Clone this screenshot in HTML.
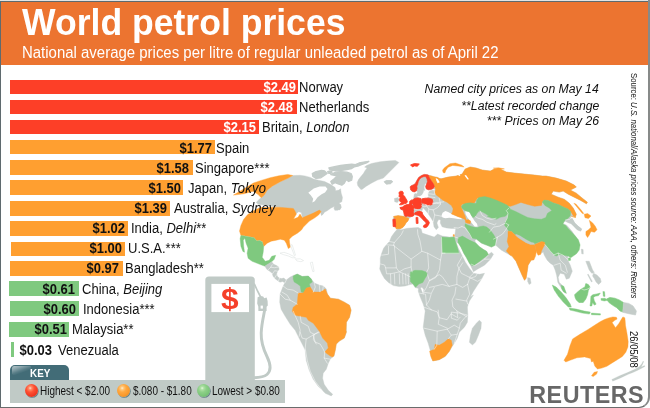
<!DOCTYPE html>
<html><head><meta charset="utf-8">
<style>
html,body{margin:0;padding:0;}
body{width:650px;height:408px;overflow:hidden;background:#fff;position:relative;font-family:"Liberation Sans",sans-serif;color:#111;}
.ab{position:absolute;}
#hdr{position:absolute;left:1px;top:2px;width:647px;height:63.3px;background:#ec7430;}
#title{position:absolute;left:22px;top:3px;font-size:36px;font-weight:bold;color:#fff;line-height:40px;white-space:nowrap;transform-origin:0 0;transform:scaleX(0.988);}
#sub{position:absolute;left:22px;top:43px;font-size:16px;color:#fff;line-height:20px;white-space:nowrap;transform-origin:0 0;transform:scaleX(0.935);}
.bar{position:absolute;height:14.5px;}
.r{background:#fd3f27;}
.o{background:#ff9f30;}
.g{background:#7fc97f;}
.v{position:absolute;width:60px;font-weight:bold;font-size:14px;line-height:15px;white-space:nowrap;text-align:right;transform-origin:100% 50%;transform:scaleX(0.925);}
.w{color:#fff;}
.n{position:absolute;font-size:14px;line-height:15px;white-space:nowrap;transform-origin:0 50%;transform:scaleX(0.93);}
.note{position:absolute;right:51px;font-size:12px;font-style:italic;line-height:14px;white-space:nowrap;text-align:right;transform-origin:100% 0;transform:scaleX(1.02);}
#map{position:absolute;left:0;top:0;}
.vt{position:absolute;white-space:nowrap;transform-origin:0 0;transform:rotate(90deg);}
#keytab{position:absolute;left:10.2px;top:365.1px;width:58.9px;height:15.3px;background:#426c77;border-radius:5px 5px 0 0;overflow:hidden;}
#keytab:before{content:"";position:absolute;left:1.6px;top:1.4px;width:19px;height:8.5px;border-radius:4px 2px 14px 3px;background:linear-gradient(160deg,rgba(255,255,255,.62) 0%,rgba(255,255,255,.4) 25%,rgba(255,255,255,.12) 50%,rgba(255,255,255,0) 66%);}
#keytab span{position:absolute;left:19.4px;top:2px;font-size:11px;font-weight:bold;color:#fff;line-height:13px;transform-origin:0 50%;transform:scaleX(0.9);}
#keybar{position:absolute;left:10.3px;top:380.3px;width:275.2px;height:22.4px;background:#c0cac6;}
.kt{position:absolute;top:383.9px;font-size:12px;line-height:14px;white-space:nowrap;transform-origin:0 50%;transform:scaleX(0.83);}
.dot{position:absolute;width:13.6px;height:13.6px;border-radius:50%;top:383.5px;box-shadow:0.7px 0.8px 0.6px rgba(60,95,105,.7);}
#logo{position:absolute;left:529.3px;top:382px;font-size:23.3px;font-weight:bold;color:#676767;line-height:26px;white-space:nowrap;letter-spacing:0.5px;}
</style></head><body>
<div id="hdr"></div>
<div id="wrap" style="position:absolute;left:0;top:0;width:650px;height:408px;will-change:transform;">
<div id="title">World petrol prices</div>
<div id="sub">National average prices per litre of regular unleaded petrol as of April 22</div>
<svg id="map" width="650" height="408" viewBox="0 0 650 408">
<g stroke-linejoin="round">
<path d="M312.3,173.5 316.0,171.6 321.5,170.4 324.6,171.0 327.1,173.5 324.6,175.3 320.9,177.8 316.0,178.4 312.9,176.5Z" fill="#c4ccc9" stroke="#c4ccc9" stroke-width="1.3"/>
<path d="M330.8,174.7 335.7,172.2 340.6,171.6 346.8,172.2 351.1,173.5 352.3,176.5 351.7,180.2 348.6,181.5 346.2,179.6 344.3,183.3 341.8,185.2 338.2,183.9 335.1,182.7 332.2,184.3 330.8,181.5 334.5,178.4 336.9,175.9Z" fill="#c4ccc9" stroke="#c4ccc9" stroke-width="1.3"/>
<path d="M328.9,167.9 334.5,166.7 340.6,165.5 346.8,164.6 351.7,164.2 355.4,164.6 359.1,163.0 365.2,161.8 368.9,161.4 366.5,162.9 361.5,164.6 357.8,166.1 354.2,166.9 351.7,168.5 346.8,169.5 341.8,170.4 336.9,170.8 332.0,170.4 329.5,169.2Z" fill="#c4ccc9" stroke="#c4ccc9" stroke-width="1.3"/>
<path d="M327.7,171.6 330.2,170.8 332.2,172.0 330.8,173.5 328.3,173.2Z" fill="#c4ccc9" stroke="#c4ccc9" stroke-width="1.3"/>
<path d="M292.7,175.5 300.0,175.3 304.9,175.9 310.5,177.4 313.5,179.0 318.5,180.2 324.6,181.5 327.7,183.1 330.8,184.5 332.6,185.8 335.1,187.6 335.7,190.7 338.8,190.1 340.6,188.8 341.2,193.2 342.5,197.5 341.8,201.8 339.2,203.1 341.1,206.5 339.9,209.9 336.5,209.1 334.1,206.5 330.7,208.2 327.2,210.8 323.8,212.5 321.7,215.1 321.1,210.8 317.6,213.4 314.2,215.4 309.0,217.1 303.9,218.9 302.2,216.8 301.3,212.5 298.7,211.7 295.3,214.2 293.6,209.9 285.0,209.6 278.3,207.3 258.2,204.2 256.2,202.6 259.2,199.2 261.2,197.8 264.2,195.2 267.2,190.2 272.2,186.2 280.3,181.7 288.3,178.1 292.7,175.5Z" fill="#c4ccc9" stroke="#c4ccc9" stroke-width="0.4"/>
<path d="M321.1,210.0 323.5,207.7 326.5,206.1 329.4,205.1 328.6,207.4 326.3,209.5 324.5,211.7 323.3,213.9 321.6,215.6 320.8,213.4Z" fill="#c4ccc9" stroke="#c4ccc9" stroke-width="0.4"/>
<path d="M333.8,207.7 335.8,205.8 338.7,204.1 340.7,204.6 341.2,208.0 337.7,210.3 334.8,210.3Z" fill="#c4ccc9" stroke="#c4ccc9" stroke-width="0.4"/>
<path d="M308.3,192.8 313.7,188.4 319.6,186.5 325.5,186.5 327.5,188.9 325.0,192.4 321.6,194.3 317.6,197.3 314.7,201.2 312.3,202.6 313.2,198.7 310.8,195.3Z" fill="#ffffff"/>
<path d="M233.5,195.1 239.1,191.8 245.7,187.7 253.5,183.0 261.2,180.4 270.1,177.7 278.9,175.8 287.8,174.4 292.7,175.5 288.3,178.1 280.3,181.7 272.2,186.2 267.2,190.2 264.2,195.2 261.2,197.8 258.2,194.6 253.2,191.2 244.1,193.8Z" fill="#ff9f30" stroke="#ff9f30" stroke-width="0.4"/>
<path d="M278.3,207.2 293.3,208.4 294.7,210.4 296.4,214.1 293.5,219.1 298.0,217.3 300.0,214.1 302.4,217.7 306.4,216.1 313.4,213.1 319.5,210.0 321.1,211.7 318.5,215.1 314.4,218.1 309.4,221.1 306.4,224.1 303.4,227.1 301.4,230.1 297.4,233.2 292.3,236.2 289.3,239.2 289.5,242.2 290.3,247.2 288.3,248.6 286.3,243.2 284.3,240.2 280.3,239.2 276.3,240.2 271.2,241.2 267.2,243.2 263.7,246.4 262.3,241.6 259.6,240.2 256.8,240.8 254.0,237.4 249.8,236.7 244.3,235.8 240.9,235.4 239.5,231.1 240.9,225.6 243.6,219.4 247.7,214.6 254.0,210.4 260.2,207.6Z" fill="#ff9f30" stroke="#ff9f30" stroke-width="0.4"/>
<path d="M240.9,235.6 240.1,238.6 240.9,246.2 242.9,251.4 244.5,252.2 243.7,246.2 243.3,240.2 244.9,238.2 246.1,243.2 248.1,248.2 247.1,253.2 248.1,258.3 252.1,261.3 257.2,263.3 262.2,265.3 265.2,266.3 268.2,264.3 271.2,262.3 274.2,259.3 275.7,255.3 271.8,256.3 269.2,260.3 265.2,261.3 262.2,257.3 263.2,252.2 263.7,246.6 262.3,241.9 259.6,240.5 256.8,241.1 254.0,237.7 249.8,237.0 244.3,236.0Z" fill="#7fc97f" stroke="#7fc97f" stroke-width="0.4"/>
<path d="M264.8,266.0 268.2,264.0 271.7,261.7 273.6,264.3 276.1,265.3 278.5,266.8 279.1,269.2 277.6,271.2 276.7,273.6 277.2,276.1 279.1,278.0 281.5,278.6 283.9,278.1 285.5,279.5 286.6,280.7 285.6,283.4 284.4,282.6 282.5,281.5 280.0,282.2 277.5,280.5 275.1,278.7 273.1,276.2 272.2,273.2 269.7,271.3 266.8,269.3Z" fill="#c4ccc9" stroke="#c4ccc9" stroke-width="0.4"/>
<path d="M286.2,280.1 283.2,286.1 280.1,294.1 279.7,302.2 281.1,309.2 285.2,316.3 290.2,324.3 295.2,330.3 298.2,336.3 300.1,340.0 303.2,346.1 305.2,350.1 306.2,360.2 309.2,370.2 313.2,379.2 318.2,386.3 325.3,393.3 331.3,395.9 332.7,394.3 328.3,390.3 324.2,384.3 322.6,378.2 323.2,373.2 326.3,369.2 328.3,363.2 330.3,359.2 332.3,357.1 333.9,356.1 335.3,350.1 336.3,344.1 339.3,341.1 344.3,338.1 346.4,332.0 346.4,322.3 349.5,317.3 351.1,310.2 349.5,305.2 344.4,302.2 338.4,299.2 330.4,298.2 327.4,294.1 326.4,289.1 323.3,286.1 319.3,285.1 314.3,283.1 311.3,279.1 308.3,276.1 302.2,276.5 297.2,274.1 293.2,275.5 290.2,277.1Z" fill="#c4ccc9" stroke="#c4ccc9" stroke-width="0.4"/>
<path d="M293.2,276.1 297.2,274.1 302.2,276.5 308.3,276.1 311.3,279.1 312.3,282.1 309.3,284.1 310.3,287.1 306.3,288.1 304.3,293.1 301.2,292.1 300.2,286.1 297.2,283.7 294.2,282.1 293.2,279.1Z" fill="#7fc97f" stroke="#7fc97f" stroke-width="0.4"/>
<path d="M298.2,293.1 303.2,293.1 306.3,288.1 310.3,287.1 313.3,292.1 320.3,292.1 325.3,289.1 327.4,294.1 330.4,298.2 338.4,299.2 344.4,302.2 349.5,305.2 351.1,310.2 349.5,317.3 346.4,322.3 346.0,330.3 346.4,332.0 344.3,338.1 339.3,341.1 336.3,344.1 335.3,350.1 333.9,356.1 332.3,357.1 330.3,356.1 324.7,352.1 328.3,348.1 327.3,343.1 322.6,338.1 319.3,331.3 316.3,327.3 313.3,323.3 308.3,320.3 306.3,317.3 300.2,316.3 295.2,315.2 292.2,311.2 293.2,307.2 297.2,304.2Z" fill="#ff9f30" stroke="#ff9f30" stroke-width="0.4"/>
<path d="M360.9,189.5 357.8,185.8 357.2,182.7 358.5,179.6 360.9,176.5 363.4,173.5 365.2,170.4 367.1,167.9 364.6,167.1 366.5,165.5 371.4,163.6 376.3,162.4 380.0,161.8 386.4,161.1 395.4,160.4 398.9,162.5 394.4,167.1 390.4,171.1 386.4,175.1 383.4,178.1 377.4,180.1 371.3,183.2 366.3,186.2 362.3,189.2Z" fill="#c4ccc9" stroke="#c4ccc9" stroke-width="0.4"/>
<path d="M384.0,181.7 386.4,180.5 391.4,180.5 392.8,181.7 390.4,183.8 386.4,184.2Z" fill="#c4ccc9" stroke="#c4ccc9" stroke-width="0.4"/>
<path d="M393.2,226.5 392.9,219.4 393.7,216.5 398.1,215.7 403.5,216.5 404.7,213.5 404.0,210.6 400.0,209.1 400.3,207.6 404.0,206.9 407.6,204.7 409.9,203.5 409.9,201.0 412.8,200.0 413.5,199.1 414.3,194.1 415.7,193.2 417.2,194.4 417.4,197.6 420.1,198.5 422.6,199.1 426.8,198.5 428.5,196.6 428.2,193.7 429.4,191.2 431.9,190.3 434.1,190.3 435.6,189.3 435.6,189.4 433.3,188.6 430.9,189.7 428.2,189.9 426.2,188.9 425.6,186.5 426.2,184.6 425.6,183.1 424.8,184.6 424.1,187.2 424.3,189.0 424.9,190.4 423.8,190.1 423.2,192.3 421.9,194.7 419.9,195.9 417.6,195.9 416.8,193.9 417.6,191.9 416.5,190.9 414.4,192.0 412.5,191.6 410.7,190.1 410.0,186.8 411.3,185.6 413.2,184.8 415.2,183.6 416.8,180.5 418.7,177.3 421.5,175.4 424.2,174.4 427.4,174.6 428.9,175.4 430.9,175.8 434.0,176.8 437.2,177.3 440.7,179.0 440.0,179.1 448.1,177.1 456.1,176.1 462.1,174.1 465.2,169.0 470.2,167.0 476.2,168.0 482.2,170.0 490.3,171.1 494.3,169.0 500.3,169.0 506.4,172.1 514.4,173.1 524.4,174.1 534.5,175.1 542.5,176.1 546.2,176.1 556.2,178.1 566.3,181.1 574.3,185.1 576.3,187.1 570.3,190.1 576.3,193.2 582.3,198.2 587.4,202.2 586.4,203.8 580.3,200.2 574.3,197.2 568.3,194.2 563.2,191.1 559.2,192.1 553.2,191.1 551.2,194.2 558.2,197.2 564.2,199.2 569.3,203.2 573.3,208.2 576.3,214.2 575.3,217.3 571.3,216.3 569.6,219.5 572.2,218.6 574.7,222.9 578.2,226.3 581.6,228.9 580.7,231.1 577.3,229.8 573.9,226.3 571.3,223.7 568.7,222.9 565.3,221.2 562.7,223.2 567.0,225.5 572.2,231.5 576.4,238.3 579.0,245.2 577.3,239.1 578.3,245.1 576.3,250.1 572.3,253.1 568.3,255.1 567.3,259.2 570.3,265.2 572.3,271.2 569.3,278.2 566.3,279.2 564.2,274.2 560.2,273.2 558.2,277.2 559.2,282.3 562.2,285.3 564.2,289.3 566.3,293.3 563.2,291.3 560.2,286.3 557.8,282.3 556.6,275.2 555.2,270.2 553.2,265.2 550.2,263.2 547.2,260.2 544.2,255.1 543.2,252.1 540.1,254.1 537.1,251.1 535.1,250.1 534.1,255.1 531.1,260.2 528.1,265.2 527.1,272.2 526.1,278.2 524.5,280.3 522.1,275.2 519.0,268.2 516.0,261.2 512.0,256.1 510.0,255.1 501.5,250.2 495.5,245.1 491.5,247.1 486.5,245.1 481.4,243.1 476.4,239.1 474.8,240.7 475.8,243.1 479.4,246.7 483.5,249.6 486.5,251.2 488.5,254.4 491.5,252.2 493.5,254.2 490.5,259.2 484.5,265.2 477.4,269.2 473.4,271.7 471.8,268.0 469.4,263.2 466.4,257.6 463.8,253.2 460.9,247.1 458.5,243.1 456.9,242.7 455.3,240.1 454.3,236.7 454.9,235.1 455.7,229.1 457.3,225.0 456.8,228.2 451.6,228.5 446.5,227.9 442.1,226.8 440.3,223.1 440.6,220.1 438.8,219.4 437.6,221.2 436.9,223.1 438.4,227.5 436.2,229.7 434.0,226.8 433.2,221.6 431.0,217.9 428.1,213.5 425.1,209.9 422.9,207.6 421.6,212.1 423.1,215.0 426.0,218.7 429.0,221.6 428.5,224.6 426.5,226.8 425.0,226.0 426.0,223.5 424.6,221.2 422.4,219.1 420.1,216.5 417.9,215.0 415.0,214.7 414.3,215.3 410.6,217.2 408.7,218.5 407.9,220.9 406.0,222.8 404.6,225.3 402.6,227.6 399.1,229.1 396.2,228.7 395.6,226.8Z" fill="#c4ccc9" stroke="#c4ccc9" stroke-width="0.4"/>
<path d="M442.6,212.7 445.4,211.0 448.1,212.1 451.4,213.8 454.2,215.2 458.1,216.8 460.8,217.6 462.0,219.3 458.1,218.9 453.6,218.3 449.2,217.8 445.4,218.3 442.6,217.6 441.5,215.4Z" fill="#ffffff"/>
<path d="M465.2,211.0 469.1,211.9 470.4,214.1 472.4,217.6 474.6,221.0 477.0,223.7 477.7,226.5 474.8,226.7 472.4,223.7 470.0,220.7 467.4,217.6 465.6,214.3Z" fill="#ffffff"/>
<path d="M394.4,198.5 398.1,197.6 399.1,200.3 397.4,202.5 394.7,201.8Z" fill="#c4ccc9" stroke="#c4ccc9" stroke-width="0.4"/>
<path d="M384.0,181.7 386.4,180.5 391.4,180.5 392.8,181.7 390.4,183.8 386.4,184.2Z" fill="#c4ccc9" stroke="#c4ccc9" stroke-width="0.4"/>
<path d="M428.9,175.4 430.9,175.8 434.0,176.8 437.2,177.3 440.7,179.0 440.0,179.1 448.1,177.1 456.1,176.1 462.1,174.1 465.2,169.0 470.2,167.0 476.2,168.0 482.2,170.0 490.3,171.1 494.3,169.0 500.3,169.0 506.4,172.1 514.4,173.1 524.4,174.1 534.5,175.1 542.5,176.1 546.2,176.1 556.2,178.1 566.3,181.1 574.3,185.1 576.3,187.1 570.3,190.1 576.3,193.2 582.3,198.2 587.4,202.2 586.4,203.8 580.3,200.2 574.3,197.2 568.3,194.2 563.2,191.1 559.2,192.1 553.2,191.1 551.2,194.2 558.2,197.2 564.2,199.2 569.3,203.2 573.3,208.2 576.3,214.2 575.3,217.3 571.3,216.3 575.8,217.5 573.2,215.7 570.7,211.5 568.1,208.9 563.8,207.2 558.6,204.6 553.5,202.9 548.3,200.6 544.1,200.0 542.3,202.0 541.5,205.4 534.6,206.3 527.8,204.6 520.9,202.4 515.7,204.6 510.6,206.3 507.2,206.0 507.4,205.2 498.3,202.2 490.3,199.2 482.2,197.2 477.2,198.2 474.2,203.2 462.1,204.2 461.1,206.1 461.6,207.9 462.7,210.5 463.8,213.2 464.9,215.4 465.6,217.6 466.7,221.5 464.9,219.6 461.9,217.9 458.1,216.7 454.2,215.0 451.4,213.9 452.5,212.1 453.1,208.8 451.4,205.5 447.0,202.2 442.6,200.0 435.6,194.4 434.9,192.2 435.6,189.4 434.5,186.5 433.7,184.1 431.8,181.3 429.8,178.2 428.7,175.8 429.0,175.5Z" fill="#ff9f30" stroke="#ff9f30" stroke-width="0.4"/>
<path d="M442.5,170.2 444.4,167.8 449.9,163.7 455.5,163.0 461.9,165.2 464.1,167.0 458.2,166.1 452.7,165.4 448.1,167.2 445.9,170.2 444.9,172.9 443.1,172.6Z" fill="#ff9f30" stroke="#ff9f30" stroke-width="0.4"/>
<path d="M435.7,178.1 437.9,179.2 439.8,182.2 437.6,183.3 436.4,180.7Z" fill="#ffffff"/>
<path d="M455.6,170.7 457.5,170.7 460.4,175.5 459.0,175.9Z" fill="#ffffff"/>
<path d="M464.5,175.5 466.0,175.1 468.9,179.2 467.5,179.6Z" fill="#ffffff"/>
<path d="M493.3,168.1 498.8,167.8 504.4,168.9 498.8,169.2Z" fill="#ff9f30" stroke="#ff9f30" stroke-width="0.4"/>
<path d="M465.2,220.4 468.0,219.6 470.7,221.0 470.2,223.7 467.4,223.2 465.6,222.6Z" fill="#ff9f30" stroke="#ff9f30" stroke-width="0.4"/>
<path d="M461.4,206.6 463.0,204.4 465.8,203.3 470.2,202.8 473.5,203.3 476.3,203.3 476.6,200.3 478.8,197.4 484.7,196.6 490.6,198.1 496.5,200.3 507.4,205.2 510.0,208.2 508.4,213.2 505.3,216.3 500.3,217.3 496.3,219.3 492.3,218.3 487.3,216.3 488.9,216.0 485.6,213.8 482.3,212.1 480.1,211.0 478.5,211.6 476.8,213.8 475.2,216.5 472.9,217.6 471.1,214.9 470.4,213.2 469.1,211.7 465.2,210.8 462.5,208.8Z" fill="#7fc97f" stroke="#7fc97f" stroke-width="0.4"/>
<path d="M508.9,208.0 509.7,208.9 515.7,211.5 522.6,214.9 527.8,217.5 534.6,218.8 541.5,219.2 545.8,217.5 547.5,213.2 551.8,210.6 549.2,208.0 544.9,205.4 542.3,202.0 544.1,200.0 548.3,200.6 553.5,202.9 558.6,204.6 563.8,207.2 568.1,208.9 570.7,211.5 570.3,215.7 568.1,218.3 565.5,220.0 563.8,221.7 562.9,224.3 565.5,225.2 568.1,228.6 571.5,232.0 574.9,235.5 578.4,239.8 580.1,244.9 579.2,250.1 576.7,253.5 573.2,256.1 570.7,257.8 568.1,256.1 563.8,255.2 559.5,254.4 556.1,256.1 553.5,254.4 550.1,250.9 547.5,247.5 544.9,244.1 544.1,242.3 541.5,241.5 538.9,242.3 534.6,244.1 530.3,244.1 526.0,242.3 521.7,239.8 518.3,237.2 515.7,235.0 513.2,232.9 511.5,231.2 508.9,231.2 507.2,228.6 504.6,225.2 505.4,221.7 507.2,218.3 508.0,213.2 506.3,210.6Z" fill="#7fc97f" stroke="#7fc97f" stroke-width="0.4"/>
<path d="M568.1,258.2 570.3,257.8 570.7,260.2 568.7,260.8Z" fill="#7fc97f" stroke="#7fc97f" stroke-width="0.4"/>
<path d="M508.0,231.2 511.5,231.5 513.2,233.2 515.7,235.5 518.3,237.7 521.7,240.1 526.0,242.7 530.3,244.4 534.3,244.6 535.5,247.5 536.3,251.8 535.5,256.1 533.8,260.0 531.1,260.2 528.1,265.2 527.1,272.2 526.1,278.2 524.5,280.3 522.1,275.2 519.0,268.2 516.0,261.2 512.0,256.1 510.0,255.1 506.3,250.9 508.9,246.6 507.2,241.5 508.0,236.3Z" fill="#ff9f30" stroke="#ff9f30" stroke-width="0.4"/>
<path d="M534.6,244.6 538.9,242.7 541.5,241.5 544.6,242.3 544.9,244.6 543.2,247.5 541.5,250.9 540.6,254.4 538.1,255.2 536.3,251.8 535.5,247.5Z" fill="#ff9f30" stroke="#ff9f30" stroke-width="0.4"/>
<path d="M527.7,277.6 530.1,278.2 531.1,283.3 529.1,284.5 527.7,281.3Z" fill="#c4ccc9" stroke="#c4ccc9" stroke-width="0.4"/>
<path d="M515.7,234.1 520.0,235.8 526.0,239.6 531.2,242.2 534.3,243.0 534.3,244.6 530.3,244.4 526.0,242.7 521.7,240.1 518.3,237.7 515.7,235.5Z" fill="#c4ccc9" stroke="#c4ccc9" stroke-width="0.2"/>
<path d="M465.2,223.7 467.4,224.8 470.2,225.9 473.5,227.0 477.4,227.6 480.1,226.5 483.4,225.9 486.7,227.0 490.0,229.8 493.4,234.2 496.0,238.6 495.5,245.1 491.5,247.1 486.5,245.1 481.4,243.1 476.4,239.1 471.8,238.1 469.1,233.1 466.9,228.7 464.9,225.9Z" fill="#7fc97f" stroke="#7fc97f" stroke-width="0.4"/>
<path d="M457.9,238.1 462.4,236.1 469.4,240.1 475.8,243.1 479.4,246.7 483.5,249.6 486.5,251.2 488.5,254.8 483.5,258.2 478.4,262.2 474.4,265.2 471.8,265.6 469.4,263.2 466.4,257.6 463.8,253.2 460.9,247.1 458.1,242.7Z" fill="#7fc97f" stroke="#7fc97f" stroke-width="0.4"/>
<path d="M453.1,234.7 454.2,234.4 454.7,236.9 454.3,239.2 453.4,238.1Z" fill="#ff9f30" stroke="#ff9f30" stroke-width="0.4"/>
<path d="M410.1,186.8 411.3,185.7 413.2,184.9 415.2,183.7 416.8,180.6 418.7,177.4 421.5,175.5 424.2,174.4 427.4,174.7 428.9,175.5 428.5,176.0 425.6,176.5 423.4,176.8 421.1,177.8 419.5,179.4 418.3,181.7 417.6,184.9 416.9,185.9 417.2,188.4 416.5,190.8 414.4,191.9 412.5,191.5 410.7,190.0Z" fill="#fd3f27" stroke="#fd3f27" stroke-width="0.5"/>
<path d="M425.8,176.3 428.5,175.9 429.7,178.2 431.7,181.3 433.6,184.1 434.4,186.4 433.3,188.4 430.9,189.6 428.2,189.8 426.2,188.8 425.6,186.4 426.6,184.1 427.4,181.7 427.0,179.0 426.0,177.3Z" fill="#fd3f27" stroke="#fd3f27" stroke-width="0.5"/>
<path d="M398.9,192.5 400.4,191.3 402.4,191.3 403.4,192.9 402.9,194.9 404.4,195.9 405.4,197.8 406.7,199.8 407.4,201.8 406.4,203.3 404.3,203.8 401.4,204.8 399.4,204.8 400.4,203.3 401.9,202.4 399.9,201.4 399.3,199.3 400.3,197.8 399.0,196.4 399.3,194.4Z" fill="#fd3f27" stroke="#fd3f27" stroke-width="0.8"/>
<path d="M399.9,207.6 402.4,207.1 404.3,205.6 406.8,204.6 408.7,204.6 409.7,203.6 411.7,204.6 413.2,206.2 414.2,207.6 413.7,209.6 413.2,212.1 414.2,214.5 413.2,216.1 410.7,216.6 407.7,216.1 405.3,216.6 404.2,214.5 403.7,212.1 403.2,210.1 400.9,209.2Z" fill="#fd3f27" stroke="#fd3f27" stroke-width="0.8"/>
<path d="M409.7,201.3 412.2,199.7 413.2,201.3 412.7,203.2 411.5,204.4 409.7,203.7Z" fill="#fd3f27" stroke="#fd3f27" stroke-width="0.8"/>
<path d="M412.9,199.8 415.1,198.2 418.0,197.9 420.8,198.5 421.5,200.8 421.2,203.2 421.7,205.7 420.6,208.2 418.0,208.9 415.1,208.7 414.1,207.3 413.2,205.8 412.7,203.2 413.2,201.3Z" fill="#fd3f27" stroke="#fd3f27" stroke-width="0.8"/>
<path d="M422.1,198.8 425.4,198.2 428.8,198.2 432.2,199.2 432.8,201.8 432.4,204.3 429.8,205.3 426.4,204.8 423.4,204.0 421.9,202.4Z" fill="#fd3f27" stroke="#fd3f27" stroke-width="0.8"/>
<path d="M414.6,213.0 417.1,211.7 419.5,211.0 422.1,212.0 422.5,214.0 424.0,216.0 426.0,218.4 428.4,220.9 429.4,222.8 428.4,224.9 427.0,226.9 424.9,227.8 423.3,226.9 423.8,225.3 425.8,224.3 426.3,222.8 424.3,221.0 422.4,219.0 420.6,217.1 419.0,215.8 417.1,215.1 415.1,214.6Z" fill="#fd3f27" stroke="#fd3f27" stroke-width="0.8"/>
<path d="M416.0,217.4 417.8,217.4 418.1,223.4 416.3,223.4Z" fill="#fd3f27" stroke="#fd3f27" stroke-width="0.8"/>
<path d="M393.7,216.5 398.1,215.7 403.5,216.5 408.7,218.5 407.9,220.9 406.0,222.8 404.6,225.3 402.6,227.6 399.1,229.1 396.2,228.7 395.6,226.8 395.6,223.1 395.1,219.0Z" fill="#ff9f30" stroke="#ff9f30" stroke-width="0.7"/>
<path d="M392.9,219.4 395.1,219.0 395.6,223.1 395.6,226.8 393.2,226.5Z" fill="#fd3f27" stroke="#fd3f27" stroke-width="0.8"/>
<path d="M410.5,164.9 414.4,163.5 419.3,163.9 417.4,166.3 414.4,165.9 412.5,166.9Z" fill="#fd3f27" stroke="#fd3f27" stroke-width="0.8"/>
<path d="M411.1,227.9 418.2,227.5 421.2,229.1 422.2,233.1 428.2,235.1 434.2,237.1 437.6,234.1 442.3,236.1 449.3,237.1 454.3,236.7 455.3,240.1 458.3,248.2 462.4,256.2 465.4,262.2 469.4,268.2 473.4,273.3 479.4,274.3 484.5,273.3 481.4,279.3 477.4,285.3 473.4,291.4 470.4,297.0 473.4,295.0 469.4,301.1 467.4,307.1 467.8,315.1 467.4,322.2 464.4,327.2 459.3,332.2 457.3,338.2 454.3,343.3 452.3,346.3 449.3,351.3 445.3,356.3 439.2,359.7 432.8,360.9 431.2,357.3 430.2,350.3 428.2,343.3 425.2,335.2 423.2,327.2 424.2,319.2 425.2,311.1 423.2,304.1 420.2,297.1 418.2,291.0 419.2,285.0 423.4,295.0 423.8,289.5 421.9,287.2 418.9,288.5 415.0,287.5 413.0,284.0 410.1,284.6 405.2,286.0 399.3,286.6 393.4,285.6 388.5,282.6 384.6,278.7 381.7,273.8 379.7,268.9 380.3,264.0 380.3,258.1 381.7,253.2 383.6,248.3 386.6,244.4 389.5,241.5 391.5,236.6 394.4,232.6 397.4,229.1 401.3,229.7 407.2,228.3Z" fill="#c4ccc9" stroke="#c4ccc9" stroke-width="0.4"/>
<path d="M441.3,237.1 449.3,237.5 454.3,237.1 455.3,241.1 457.3,247.1 458.9,253.2 442.3,253.2 441.9,245.1Z" fill="#7fc97f" stroke="#7fc97f" stroke-width="0.4"/>
<path d="M410.5,271.9 415.0,270.3 421.9,270.5 426.2,271.9 427.4,274.8 424.8,278.7 422.8,282.6 418.9,284.0 415.6,287.2 413.0,284.0 410.5,281.7 410.1,276.8Z" fill="#7fc97f" stroke="#7fc97f" stroke-width="0.4"/>
<path d="M429.6,351.3 434.2,349.3 435.2,344.3 439.2,345.3 444.3,342.3 448.3,338.8 451.3,340.3 452.3,345.3 449.3,351.3 445.3,356.3 439.2,359.7 432.8,360.9 430.8,356.3Z" fill="#ff9f30" stroke="#ff9f30" stroke-width="0.4"/>
<path d="M479.4,320.2 481.4,322.2 481.0,328.2 478.4,335.2 475.4,342.3 472.4,344.9 469.4,342.3 470.4,335.2 472.4,328.2 476.4,323.2Z" fill="#c4ccc9" stroke="#c4ccc9" stroke-width="0.4"/>
<path d="M569.6,219.5 572.2,218.6 574.7,222.9 578.2,226.3 581.6,228.9 580.7,231.1 577.3,229.8 573.9,226.3 571.3,223.7Z" fill="#c4ccc9" stroke="#c4ccc9" stroke-width="0.4"/>
<path d="M584.2,214.3 587.6,213.5 591.0,216.0 588.5,218.6 585.0,217.7Z" fill="#ff9f30" stroke="#ff9f30" stroke-width="0.4"/>
<path d="M589.3,220.3 592.7,222.9 595.3,226.3 597.0,229.8 594.5,232.3 591.0,231.5 589.3,234.9 587.6,237.5 585.9,234.9 585.9,231.5 588.5,229.8 591.0,227.2 590.2,223.7Z" fill="#ff9f30" stroke="#ff9f30" stroke-width="0.4"/>
<path d="M573.9,203.2 575.9,204.0 580.7,209.5 583.8,213.6 582.4,213.6 579.0,209.5Z" fill="#ff9f30" stroke="#ff9f30" stroke-width="0.4"/>
<path d="M552.2,285.0 556.2,287.0 561.2,292.0 566.3,298.1 570.3,304.1 571.3,307.1 568.3,307.1 563.2,302.1 558.2,296.1 554.2,290.0Z" fill="#7fc97f" stroke="#7fc97f" stroke-width="0.4"/>
<path d="M569.3,308.1 576.3,309.1 584.3,311.1 590.4,312.1 589.4,314.1 582.3,313.1 574.3,311.1 569.9,310.1Z" fill="#7fc97f" stroke="#7fc97f" stroke-width="0.4"/>
<path d="M591.4,313.1 600.4,313.7 600.4,315.1 591.4,314.7Z" fill="#7fc97f" stroke="#7fc97f" stroke-width="0.4"/>
<path d="M561.2,285.3 563.8,286.3 566.3,293.3 563.8,292.1 561.8,288.9Z" fill="#7fc97f" stroke="#7fc97f" stroke-width="0.4"/>
<path d="M574.6,294.8 577.2,292.2 581.5,288.8 584.9,287.1 585.8,283.6 588.3,284.5 590.0,287.1 588.3,290.5 587.5,294.8 585.8,299.1 583.2,302.5 578.9,302.5 576.3,299.9 575.1,297.4Z" fill="#7fc97f" stroke="#7fc97f" stroke-width="0.6"/>
<path d="M590.9,296.5 592.6,294.8 596.9,293.9 600.3,293.1 598.6,295.6 595.2,296.2 593.5,297.4 594.3,300.8 596.1,304.2 594.3,305.1 592.6,302.5 591.8,305.9 590.0,305.9 590.6,301.7Z" fill="#7fc97f" stroke="#7fc97f" stroke-width="0.5"/>
<path d="M602.9,291.4 604.6,291.7 605.0,296.5 603.3,296.2Z" fill="#7fc97f" stroke="#7fc97f" stroke-width="0.4"/>
<path d="M600.9,298.6 605.0,298.2 607.7,300.3 604.3,301.0 601.2,300.3Z" fill="#7fc97f" stroke="#7fc97f" stroke-width="0.4"/>
<path d="M606.4,299.1 609.8,297.4 614.9,298.2 619.2,299.9 623.5,302.5 622.7,312.0 620.1,311.1 616.7,307.7 612.4,305.1 608.9,302.5Z" fill="#7fc97f" stroke="#7fc97f" stroke-width="0.6"/>
<path d="M623.5,302.5 628.7,303.4 633.0,305.9 636.4,311.1 635.5,315.0 628.7,313.7 622.8,312.3Z" fill="#c4ccc9" stroke="#c4ccc9" stroke-width="0.6"/>
<path d="M585.8,261.3 589.2,261.3 590.9,265.6 592.6,269.9 594.3,272.5 591.8,273.3 589.2,269.9 587.5,265.6Z" fill="#c4ccc9" stroke="#c4ccc9" stroke-width="0.5"/>
<path d="M593.5,273.3 596.9,275.0 600.3,278.5 601.2,281.9 598.6,284.5 596.1,281.9 594.3,278.5 592.6,275.9Z" fill="#c4ccc9" stroke="#c4ccc9" stroke-width="0.5"/>
<path d="M587.5,274.5 588.3,274.2 592.3,281.4 591.4,281.9Z" fill="#c4ccc9" stroke="#c4ccc9" stroke-width="0.4"/>
<path d="M581.3,249.1 583.1,249.5 583.3,254.1 581.7,253.7Z" fill="#c4ccc9" stroke="#c4ccc9" stroke-width="0.4"/>
<path d="M564.0,360.3 567.5,354.3 570.0,345.7 572.6,338.9 579.5,334.6 588.1,329.4 594.9,325.1 600.1,321.7 604.4,319.5 608.6,317.9 612.9,316.9 616.4,317.3 617.1,319.1 614.8,320.3 612.1,322.6 615.5,327.7 618.9,323.4 621.5,319.1 622.9,316.9 624.8,317.8 625.1,320.0 625.5,325.5 627.0,333.6 628.2,341.5 627.9,346.9 625.8,352.3 622.4,356.4 617.7,359.5 612.1,362.9 606.9,366.3 601.8,368.1 597.5,368.9 594.9,366.3 593.2,361.2 591.5,362.0 590.6,358.6 584.6,356.9 576.9,357.8 570.0,360.3 565.7,362.0Z" fill="#ff9f30" stroke="#ff9f30" stroke-width="0.4"/>
<path d="M591.5,375.8 594.1,372.3 597.5,371.5 596.6,374.1 593.2,376.6Z" fill="#ff9f30" stroke="#ff9f30" stroke-width="0.4"/>
<path d="M611.8,379.4 619.6,375.7 627.5,372.5 631.4,370.8 635.3,369.1 639.2,366.7 641.7,363.7 643.1,361.0 643.7,361.8 642.4,364.7 641.2,366.9 644.6,365.5 644.9,366.5 641.2,368.6 637.3,370.6 632.4,372.7 628.4,374.3 620.6,377.9 612.7,381.2Z" fill="#c4ccc9" stroke="#c4ccc9" stroke-width="0.2"/>
<g fill="none" stroke="#d9dfdd" stroke-width="0.5">
<path d="M280.0,253.2 284.0,252.3 288.7,253.9 293.5,256.3 295.5,257.9 292.1,257.7 288.1,255.9 283.3,254.6Z"/>
<path d="M295.5,259.0 300.2,258.8 303.6,260.6 300.9,261.7 296.8,260.9Z"/>
<path d="M290.4,245.1 292.1,244.7 295.5,255.2 294.4,255.5Z"/>
<path d="M310.3,262.7 312.4,262.0 314.1,271.4 312.8,271.7Z"/>
</g>
<g fill="none" stroke="#fff" stroke-width="0.55" stroke-opacity="0.9" stroke-linecap="round">
<path d="M389.5,241.5 394.4,242.5 401.3,234.6 403.2,230.7"/>
<path d="M394.4,242.5 393.4,245.4 411.1,259.1 421.9,251.3 419.9,240.5 417.9,234.6 417.5,229.7"/>
<path d="M421.9,251.3 427.7,253.2 440.5,260.1 441.9,253.2 441.5,237.5"/>
<path d="M441.9,253.2 445.0,253.2"/>
<path d="M442.3,253.2 458.9,253.2"/>
<path d="M386.6,244.8 394.4,245.4"/>
<path d="M388.5,246.4 388.5,254.2 381.7,255.2"/>
<path d="M394.4,246.4 396.4,267.9 385.6,267.9 384.6,265.0 380.7,264.0"/>
<path d="M411.1,259.1 411.1,267.0 404.2,268.9 399.3,271.9 396.4,267.9"/>
<path d="M411.1,267.0 412.1,271.9"/>
<path d="M427.7,253.2 428.7,267.9 426.8,271.9"/>
<path d="M440.5,260.1 439.5,269.9 435.6,277.7 429.7,280.7"/>
<path d="M390.5,273.8 390.9,284.0"/>
<path d="M394.4,273.8 394.8,284.0"/>
<path d="M399.3,273.8 399.7,284.0"/>
<path d="M402.6,273.8 403.0,284.0"/>
<path d="M405.6,273.8 406.0,284.0"/>
<path d="M408.1,273.8 408.5,284.0"/>
<path d="M385.6,267.9 386.6,273.8 390.5,273.8 399.3,271.9 404.2,273.8 410.1,276.8"/>
<path d="M427.5,274.6 429.4,280.5 426.5,287.4 423.5,292.3 430.4,293.2"/>
<path d="M429.4,280.5 439.2,274.6 442.2,276.6 449.0,286.4 456.9,284.4 462.7,287.4 467.6,284.4"/>
<path d="M429.4,287.4 434.3,286.4 442.2,284.4 449.0,286.4"/>
<path d="M462.7,262.8 458.8,268.7 456.9,276.6 456.9,284.4"/>
<path d="M467.6,284.4 469.6,278.5 475.5,276.6 478.4,271.7"/>
<path d="M467.6,284.4 469.6,294.2 466.7,300.1 467.6,304.0 472.5,307.0"/>
<path d="M434.3,287.4 431.4,293.2 429.4,300.1 426.5,305.0 431.4,309.9 437.3,311.9 439.2,317.7 447.1,319.7 451.0,313.8 457.8,317.7 456.9,310.9 452.9,307.0 452.0,300.1 454.9,294.2 455.9,287.4"/>
<path d="M455.9,299.1 466.7,301.1"/>
<path d="M456.9,310.9 466.7,316.8"/>
<path d="M419.6,293.2 425.5,294.2 426.5,305.0"/>
<path d="M423.5,307.0 431.4,309.9"/>
<path d="M424.2,328.2 437.2,331.2 447.3,329.2 454.3,325.2 459.3,328.2 460.3,323.2 464.4,318.2 467.4,315.1 459.3,313.1 451.3,312.1 451.3,318.2 457.3,320.2 460.3,317.1"/>
<path d="M438.2,310.1 439.2,318.2 438.2,324.2 447.3,328.2"/>
<path d="M437.2,331.2 436.8,345.3 434.2,349.3"/>
<path d="M447.3,329.2 451.3,335.2 457.3,334.2 459.3,328.2"/>
<path d="M451.3,335.2 448.3,338.8"/>
<path d="M457.3,334.2 454.3,343.3"/>
<path d="M473.4,273.3 469.4,277.3 477.4,281.3 481.4,279.3"/>
<path d="M462.4,256.2 457.3,265.2 461.4,273.3 465.4,275.3 469.4,277.3"/>
<path d="M283.2,286.1 287.2,289.1 293.2,290.1 298.2,293.1"/>
<path d="M280.1,294.1 285.2,299.2 290.2,300.2 297.2,304.2"/>
<path d="M282.1,292.1 287.2,295.2 290.2,300.2"/>
<path d="M293.2,311.2 298.2,322.3 300.2,330.3 299.2,336.3"/>
<path d="M300.2,316.2 301.2,322.3 308.3,326.3 310.3,332.3 314.3,334.3 319.3,332.3"/>
<path d="M314.3,334.3 313.3,339.4 316.3,344.0"/>
<path d="M314.3,283.1 315.3,287.1 313.3,292.1"/>
<path d="M319.3,285.1 319.9,291.7"/>
<path d="M323.3,286.1 322.7,290.5"/>
<path d="M300.1,332.0 302.1,338.1 306.2,339.1 313.2,335.0 318.2,332.0"/>
<path d="M306.2,339.1 305.2,348.1 307.2,360.2 310.2,371.2 315.2,381.3 322.2,390.3"/>
<path d="M313.2,335.0 315.2,342.1 320.2,344.1 322.6,348.1 324.7,352.1"/>
<path d="M324.7,352.1 324.2,358.1 330.3,359.2"/>
<path d="M324.2,358.1 327.3,363.2"/>
<path d="M268.2,269.7 270.7,267.3 272.2,264.8"/>
<path d="M270.7,267.3 274.6,267.7 278.5,267.0"/>
<path d="M272.6,273.6 274.6,270.7 277.5,271.2"/>
<path d="M274.6,278.0 276.8,274.6"/>
<path d="M278.5,280.7 279.5,278.3"/>
<path d="M284.9,282.9 286.2,280.3"/>
<path d="M461.9,226.5 464.7,227.6 469.1,233.1 471.8,238.1"/>
<path d="M454.2,227.6 458.1,228.1 461.9,226.5"/>
<path d="M454.7,236.9 458.1,238.1"/>
<path d="M475.2,216.5 477.9,218.2 482.3,219.3 486.7,222.1 491.1,223.7 494.5,224.8 496.0,223.7"/>
<path d="M480.1,211.0 482.3,215.4 486.7,218.2 491.1,219.3 496.0,218.2"/>
<path d="M489.5,232.1 493.5,227.1 499.5,226.1 505.6,223.0 508.6,225.0"/>
<path d="M493.5,239.1 497.5,237.1 502.5,234.1 505.6,230.1 508.6,225.0"/>
<path d="M495.5,245.1 497.5,237.1"/>
<path d="M471.4,264.2 474.4,265.6 479.4,262.8 484.5,259.2 488.5,254.8"/>
<path d="M484.5,259.2 490.5,259.2"/>
<path d="M508.9,208.0 506.3,210.6 508.0,213.2 507.2,218.3 505.4,221.7"/>
<path d="M544.9,244.6 547.5,247.5 550.1,250.9 553.5,254.4"/>
<path d="M553.2,255.1 558.2,253.1 563.2,255.1 567.3,259.2"/>
<path d="M558.2,253.1 560.2,260.2 565.3,265.2 567.3,272.2"/>
<path d="M554.2,265.2 560.2,263.2 561.2,270.2 566.3,273.2"/>
<path d="M569.8,219.2 565.5,220.0"/>
<path d="M581.5,288.8 584.0,290.0 587.1,289.3 589.5,287.9"/>
<path d="M414.1,209.1 417.5,209.6 422.0,211.1"/>
<path d="M421.7,205.7 424.4,206.7 427.4,205.7 429.8,205.3"/>
<path d="M423.4,204.0 426.4,204.8"/>
<path d="M425.9,204.7 428.8,209.1 433.2,209.9 437.6,207.6 440.6,204.0 439.1,198.1"/>
<path d="M428.8,209.1 428.1,213.5"/>
<path d="M433.2,209.9 434.7,215.0 439.1,215.7 442.1,216.5"/>
<path d="M434.7,215.0 433.2,221.6"/>
<path d="M432.5,204.0 436.2,203.2 440.6,204.0"/>
<path d="M434.1,190.3 434.9,194.4"/>
<path d="M428.5,193.7 434.1,194.4"/>
<path d="M428.5,196.6 434.9,197.6"/>
<path d="M432.6,203.2 438.5,202.5 443.7,201.8"/>
</g>
</g>
</svg>
<svg class="ab" style="left:0;top:0" width="650" height="408" viewBox="0 0 650 408">
<path d="M205.3,381 V280 Q205.3,276.4 209,276.4 H251 Q254.8,276.4 254.8,280 V381 Z" fill="#c0cac6"/>
<rect x="211.4" y="283.9" width="37.6" height="28.2" fill="#fff"/>
<path d="M254.4,284.2 L257.5,291 L260.6,297" stroke="#c0cac6" stroke-width="1.7" fill="none" stroke-linecap="round"/>
<path d="M257.6,297.2 L260.5,296 L263.2,296.4 L264.2,298.3 L266.6,297.4 L267.6,301 L267.8,305.5 L266.6,306.8 L266.6,311 L258.4,311 L258.3,306.5 L257.2,303.5 Z" fill="#c0cac6"/>
<rect x="260.6" y="305.6" width="2.3" height="3" fill="#fff"/>
<path d="M264.6,310.5 C263.6,316 261.6,324 261.2,333 C260.9,341 263.5,349.5 267.2,357 C270.8,364.5 271.6,370.5 267,374.5 C264,377 259.5,377.6 254,377.7" stroke="#c0cac6" stroke-width="2.9" fill="none"/>
<text transform="translate(229.9,308.6) scale(1.08,1)" x="0" y="0" text-anchor="middle" font-family="Liberation Sans, sans-serif" font-weight="bold" font-size="29.3" fill="#f5402a">$</text>
</svg>
<div id="bars">
<div class="bar r" style="left:10.2px;top:79.6px;width:287.5px;height:14.6px"></div>
<div class="bar r" style="left:10.2px;top:99.6px;width:286.8px;height:14.6px"></div>
<div class="bar r" style="left:10.2px;top:119.9px;width:248.6px;height:14.6px"></div>
<div class="bar o" style="left:10.2px;top:139.9px;width:204.6px;height:14.6px"></div>
<div class="bar o" style="left:10.2px;top:160.1px;width:182.7px;height:14.6px"></div>
<div class="bar o" style="left:10.2px;top:180.2px;width:173.3px;height:14.6px"></div>
<div class="bar o" style="left:9.6px;top:201.4px;width:160.9px;height:14.6px"></div>
<div class="bar o" style="left:9.6px;top:221.1px;width:118.4px;height:14.6px"></div>
<div class="bar o" style="left:11.2px;top:241.5px;width:113.9px;height:14.6px"></div>
<div class="bar o" style="left:9.6px;top:261.4px;width:113.0px;height:14.6px"></div>
<div class="bar g" style="left:8.9px;top:281.2px;width:70.0px;height:15px"></div>
<div class="bar g" style="left:10.1px;top:301.1px;width:68.8px;height:15px"></div>
<div class="bar g" style="left:9.4px;top:322.2px;width:59.2px;height:14.7px"></div>
<div class="bar g" style="left:11.1px;top:342.1px;width:3.2px;height:15.2px"></div>
</div>
<div id="labels">
<div class="v w" style="left:236.0px;top:80.0px">$2.49</div><div class="n" style="left:299.2px;top:80.0px">Norway</div>
<div class="v w" style="left:233.0px;top:100.0px">$2.48</div><div class="n" style="left:299.2px;top:100.0px">Netherlands</div>
<div class="v w" style="left:196.0px;top:120.0px">$2.15</div><div class="n" style="left:261.8px;top:120.0px">Britain, <i>London</i></div>
<div class="v" style="left:151.6px;top:141.0px">$1.77</div><div class="n" style="left:216.2px;top:141.0px">Spain</div>
<div class="v" style="left:128.9px;top:161.0px">$1.58</div><div class="n" style="left:195.3px;top:161.0px">Singapore***</div>
<div class="v" style="left:120.8px;top:181.0px">$1.50</div><div class="n" style="left:187.7px;top:181.0px">Japan, <i style="letter-spacing:0.3px">Tokyo</i></div>
<div class="v" style="left:107.3px;top:201.0px">$1.39</div><div class="n" style="left:173.6px;top:201.0px">Australia, <i>Sydney</i></div>
<div class="v" style="left:65.1px;top:221.0px">$1.02</div><div class="n" style="left:130.5px;top:221.0px">India, <i>Delhi</i>**</div>
<div class="v" style="left:61.9px;top:241.0px">$1.00</div><div class="n" style="left:127.7px;top:241.0px">U.S.A.***</div>
<div class="v" style="left:59.1px;top:261.0px">$0.97</div><div class="n" style="left:125.2px;top:261.0px">Bangladesh**</div>
<div class="v" style="left:15.4px;top:282.0px">$0.61</div><div class="n" style="left:81.5px;top:282.0px">China, <i>Beijing</i></div>
<div class="v" style="left:15.7px;top:302.0px">$0.60</div><div class="n" style="left:82.5px;top:302.0px">Indonesia***</div>
<div class="v" style="left:7.2px;top:322.0px">$0.51</div><div class="n" style="left:72.2px;top:322.0px">Malaysia**</div>
<div class="v" style="left:-8.5px;top:343.0px">$0.03</div><div class="n" style="left:57.7px;top:343.0px">Venezuala</div>
</div>
<div class="note" style="top:82.3px">Named city prices as on May 14</div>
<div class="note" style="top:98.5px">**Latest recorded change</div>
<div class="note" style="top:114.2px">*** Prices on May 26</div>
<div class="vt" id="src" style="left:640.3px;top:72.9px;font-size:8.5px;line-height:12px;transform:rotate(90deg) scaleX(0.919)">Source: <i>U.S. national/Alaska prices source: AAA, others: Reuters</i></div>
<div class="vt" id="date" style="left:639.8px;top:331px;font-size:10.5px;line-height:12px;transform:rotate(90deg) scaleX(0.9)">26/05/08</div>
<div id="keytab"><span>KEY</span></div>
<div id="keybar"></div>
<div class="dot" style="left:24.9px;background:radial-gradient(circle at 40% 32%,#ffd9c8 0%,#ff8a66 14%,#ff5234 34%,#f23a22 62%,#cf2c19 100%)"></div>
<div class="kt" style="left:40.2px">Highest &lt; $2.00</div>
<div class="dot" style="left:116.6px;background:radial-gradient(circle at 40% 32%,#fff0d0 0%,#ffc67a 14%,#ffa840 34%,#fb9a2c 62%,#d8801e 100%)"></div>
<div class="kt" style="left:132.6px">$.080 - $1.80</div>
<div class="dot" style="left:196.8px;background:radial-gradient(circle at 40% 32%,#e6f8de 0%,#aee0a4 14%,#8ed088 34%,#7cc67a 62%,#62ac66 100%)"></div>
<div class="kt" style="left:212px">Lowest &gt; $0.80</div>
<div id="logo">REUTERS</div>
</div>
<div class="ab" style="left:0;top:0;width:650px;height:1px;background:#e3e5e4"></div>
<div class="ab" style="left:0;top:1px;width:650px;height:1px;background:#5f6a6e"></div>
<div class="ab" style="left:0;top:1px;width:1px;height:407px;background:#5f6a6e"></div>
<div class="ab" style="left:-20px;top:-20px;width:668px;height:427px;border-style:solid;border-color:#878a89 #878a89 #6a6c6c #878a89;border-width:0 2px 1px 0;border-radius:0 0 11px 0;box-sizing:content-box;"></div>

</body></html>
